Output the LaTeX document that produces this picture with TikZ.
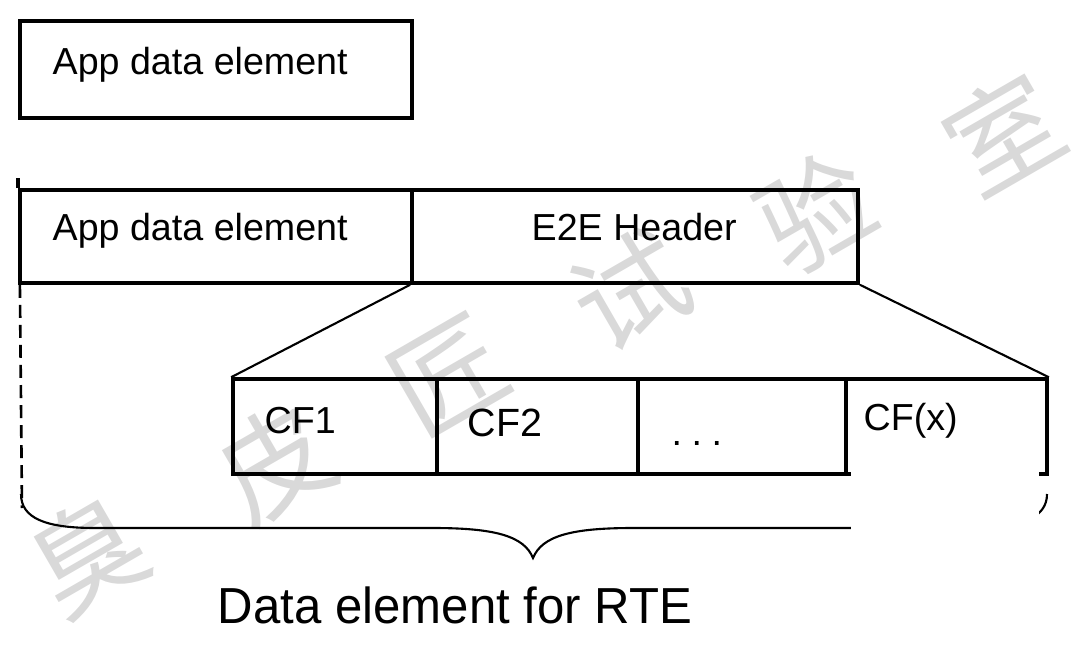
\documentclass[tikz,border=0pt]{standalone}
\usepackage{fontspec}
\setmainfont{Liberation Sans}
\newfontfamily\cjkfont{Noto Sans CJK SC}
\usepackage{tikz}
\usetikzlibrary{calc}

\tikzset{
    field/.style={draw, line width=1pt, inner sep=0pt},
    lbl/.style={black, anchor=base west, inner sep=0pt, font=\fontsize{10.7}{12}\selectfont},
    wmark/.style={black!15, rotate=30, inner sep=0pt, font=\cjkfont\fontsize{32}{32}\selectfont},
    conn/.style={line width=0.6pt},
}

\begin{document}
\begin{tikzpicture}[x=0.01cm, y=-0.01cm]
        \useasboundingbox (0,0) rectangle (1080,652);

        \node[wmark] (wm1) at (88,555) {臭};
        \node[wmark] (wm2) at (275,462) {皮};
        \node[wmark] (wm3) at (448,375) {匠};
        \node[wmark] (wm4) at (630,290) {试};
        \node[wmark] (wm5) at (815,212) {验};
        \node[wmark] (wm6) at (1003,132) {室};

        \node[field, minimum width=3.92cm, minimum height=0.97cm] (app) at (216,69.5) {};
        \node[lbl] (app-txt) at (52,75) {App data element};

        \node[field, minimum width=3.92cm, minimum height=0.93cm] (app2) at (216,236.5) {};
        \node[field, minimum width=4.46cm, minimum height=0.93cm] (hdr) at (635,236.5) {};
        \node[lbl] (app2-txt) at (52,241) {App data element};
        \node[lbl] (hdr-txt) at (531,241) {E2E Header};
        \draw[line width=1pt] (app2.north west) -- ++(0,-10);

        \node[field, minimum width=2.04cm, minimum height=0.95cm] (cf1) at (335,426.5) {};
        \node[field, minimum width=2.01cm, minimum height=0.95cm] (cf2) at (537.5,426.5) {};
        \node[field, minimum width=2.08cm, minimum height=0.95cm] (cfdots) at (742,426.5) {};
        \node[field, minimum width=2.01cm, minimum height=0.95cm] (cfx) at (946.5,426.5) {};
        \node[lbl] (cf1-txt) at (264,433) {CF1};
        \node[lbl, font=\fontsize{11.2}{12}\selectfont] (cf2-txt) at (467,436) {CF2};
        \node[lbl] (cfdots-txt) at (671,445) {.\kern2.7pt.\kern2.7pt.};
        \node[lbl] (cfx-txt) at (863,430) {CF(x)};

        \draw[conn] (hdr.south west) -- (cf1.north west);
        \draw[conn] (hdr.south east) -- (cfx.north east);

        \coordinate (dash-end) at (22,508);
        \draw[line width=0.75pt, dash pattern=on 3.7pt off 2pt] ([xshift=0.5pt]app2.south west) -- (dash-end);

        \coordinate (br-l) at (21,494);
        \coordinate (br-tip) at (533,558);
        \coordinate (br-r) at (1047,494);
        \draw[conn] (br-l) .. controls (21,518) and (45,528) .. (95,528) -- (433,528)
            .. controls (495,528) and (524,536) .. (br-tip)
            .. controls (542,536) and (571,528) .. (633,528) -- (971,528)
            .. controls (1021,528) and (1047,518) .. (br-r);
        \node[anchor=base, inner sep=0pt, font=\fontsize{14.4}{16}\selectfont] (rte) at (455,623) {\scalebox{0.97}[1]{Data element for RTE}};

        \fill[white] (851,469) rectangle (1039,652);
\end{tikzpicture}
\end{document}
